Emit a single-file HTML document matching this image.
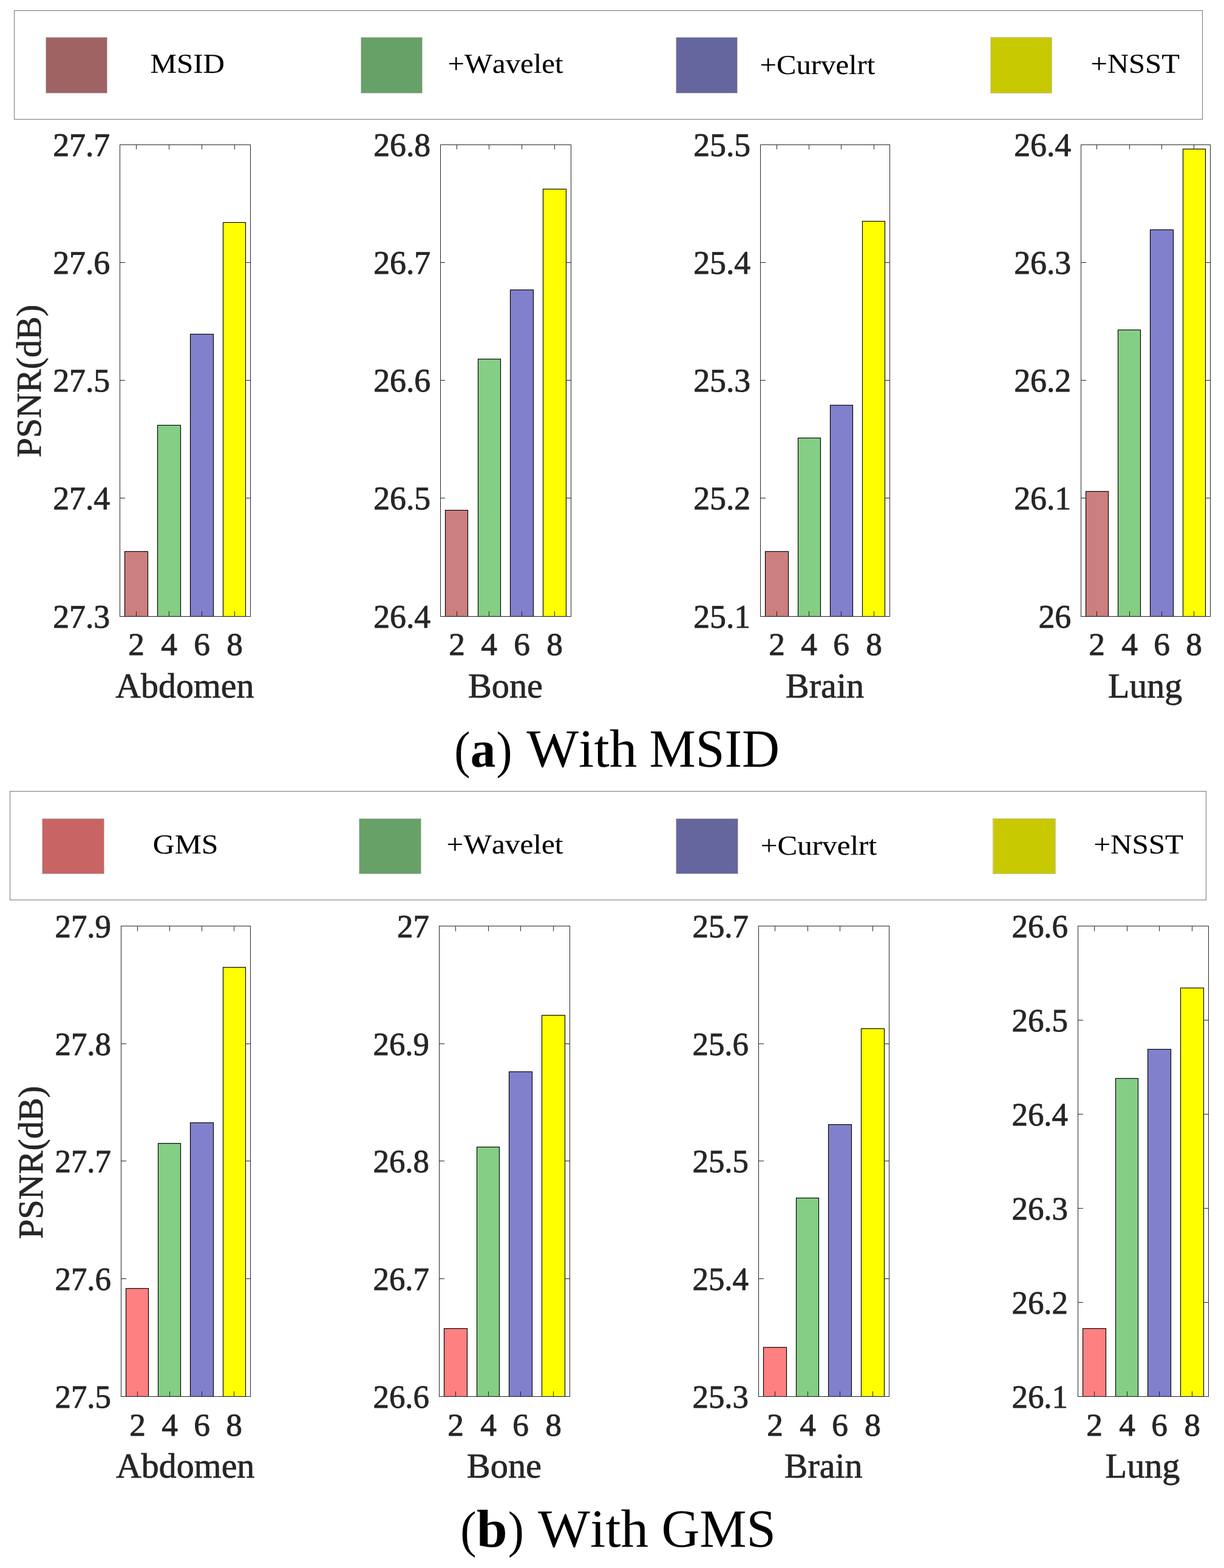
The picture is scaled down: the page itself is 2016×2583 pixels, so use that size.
<!DOCTYPE html>
<html lang="en"><head><meta charset="utf-8"><title>PSNR comparison</title>
<style>html,body{margin:0;padding:0;background:#ffffff}body{width:2016px;height:2583px;overflow:hidden}svg{display:block}text{white-space:pre;font-kerning:none;font-variant-ligatures:none;text-rendering:geometricPrecision}</style></head>
<body>
<svg width="2016" height="2583" viewBox="0 0 2016 2583" font-family='"Liberation Serif", "DejaVu Serif", serif'>
<rect width="2016" height="2583" fill="#ffffff"/>
<g id="panel-a">
<g class="legend"><rect x="23.5" y="17.5" width="1957" height="179" fill="none" stroke="#757575" stroke-width="1"/>
<rect x="75.5" y="61.5" width="101" height="92" fill="#9F6363" stroke="#c9c9c9" stroke-width="1"/>
<text transform="translate(247.55 119.8) scale(1.0787 1)" font-size="45.4" fill="#000" stroke="#000" stroke-width="0.12" stroke-linejoin="round">MSID</text>
<rect x="594.5" y="61.5" width="101" height="92" fill="#67A167" stroke="#c9c9c9" stroke-width="1"/>
<text transform="translate(737.53 119.9) scale(1.0744 1)" font-size="45.4" fill="#000" stroke="#000" stroke-width="0.12" stroke-linejoin="round">+Wavelet</text>
<rect x="1113.5" y="61.5" width="101" height="92" fill="#66669F" stroke="#c9c9c9" stroke-width="1"/>
<text transform="translate(1251.53 121.7) scale(1.0729 1)" font-size="45.4" fill="#000" stroke="#000" stroke-width="0.12" stroke-linejoin="round">+Curvelrt</text>
<rect x="1631.5" y="61.5" width="101" height="92" fill="#C8C800" stroke="#c9c9c9" stroke-width="1"/>
<text transform="translate(1796.44 119.85) scale(1.0724 1)" font-size="45.4" fill="#000" stroke="#000" stroke-width="0.12" stroke-linejoin="round">+NSST</text>
</g>
<g class="axes">
<rect x="205.5" y="908.5" width="38" height="107" fill="#CC7F7F" stroke="#000" stroke-width="1.15"/>
<rect x="259.5" y="700.5" width="38" height="315" fill="#85CE85" stroke="#000" stroke-width="1.15"/>
<rect x="313.5" y="550.5" width="38" height="465" fill="#8080CC" stroke="#000" stroke-width="1.15"/>
<rect x="367.5" y="366.5" width="37" height="649" fill="#FFFF00" stroke="#000" stroke-width="1.15"/>
<path d="M197.5 820.5h8.5M412.5 820.5h-8.5M197.5 626.5h8.5M412.5 626.5h-8.5M197.5 432.5h8.5M412.5 432.5h-8.5M224.5 1015.5v-8.5M224.5 238.5v7.5M278.5 1015.5v-8.5M278.5 238.5v7.5M332.5 1015.5v-8.5M332.5 238.5v7.5M386.5 1015.5v-8.5M386.5 238.5v7.5" stroke="#262626" stroke-width="1" fill="none"/>
<rect x="197.5" y="238.5" width="215" height="777" fill="none" stroke="#262626" stroke-width="1"/>
<text transform="translate(181.2 1033.9) scale(0.9880 1)" text-anchor="end" font-size="54.4" fill="#262626" stroke="#262626" stroke-width="0.9" stroke-linejoin="round">27.3</text>
<text transform="translate(181.2 838.9) scale(0.9880 1)" text-anchor="end" font-size="54.4" fill="#262626" stroke="#262626" stroke-width="0.9" stroke-linejoin="round">27.4</text>
<text transform="translate(181.2 644.9) scale(0.9880 1)" text-anchor="end" font-size="54.4" fill="#262626" stroke="#262626" stroke-width="0.9" stroke-linejoin="round">27.5</text>
<text transform="translate(181.2 450.9) scale(0.9880 1)" text-anchor="end" font-size="54.4" fill="#262626" stroke="#262626" stroke-width="0.9" stroke-linejoin="round">27.6</text>
<text transform="translate(181.2 256.9) scale(0.9880 1)" text-anchor="end" font-size="54.4" fill="#262626" stroke="#262626" stroke-width="0.9" stroke-linejoin="round">27.7</text>
<text transform="translate(224.5 1079.4) scale(1.0200 1)" text-anchor="middle" font-size="52.3" fill="#262626" stroke="#262626" stroke-width="0.9" stroke-linejoin="round">2</text>
<text transform="translate(278.5 1079.4) scale(1.0200 1)" text-anchor="middle" font-size="52.3" fill="#262626" stroke="#262626" stroke-width="0.9" stroke-linejoin="round">4</text>
<text transform="translate(332.5 1079.4) scale(1.0200 1)" text-anchor="middle" font-size="52.3" fill="#262626" stroke="#262626" stroke-width="0.9" stroke-linejoin="round">6</text>
<text transform="translate(386.5 1079.4) scale(1.0200 1)" text-anchor="middle" font-size="52.3" fill="#262626" stroke="#262626" stroke-width="0.9" stroke-linejoin="round">8</text>
<text transform="translate(190.21 1148.6) scale(1.0032 1)" font-size="57.7" fill="#262626" stroke="#262626" stroke-width="0.75" stroke-linejoin="round">Abdomen</text>
</g>
<g class="axes">
<rect x="733.5" y="840.5" width="37" height="175" fill="#CC7F7F" stroke="#000" stroke-width="1.15"/>
<rect x="787.5" y="591.5" width="37" height="424" fill="#85CE85" stroke="#000" stroke-width="1.15"/>
<rect x="840.5" y="477.5" width="38" height="538" fill="#8080CC" stroke="#000" stroke-width="1.15"/>
<rect x="894.5" y="311.5" width="38" height="704" fill="#FFFF00" stroke="#000" stroke-width="1.15"/>
<path d="M725.5 820.5h7.5M940.5 820.5h-8.5M725.5 626.5h7.5M940.5 626.5h-8.5M725.5 432.5h7.5M940.5 432.5h-8.5M752.5 1015.5v-8.5M752.5 238.5v7.5M805.5 1015.5v-8.5M805.5 238.5v7.5M859.5 1015.5v-8.5M859.5 238.5v7.5M913.5 1015.5v-8.5M913.5 238.5v7.5" stroke="#262626" stroke-width="1" fill="none"/>
<rect x="725.5" y="238.5" width="215" height="777" fill="none" stroke="#262626" stroke-width="1"/>
<text transform="translate(709.2 1033.9) scale(0.9880 1)" text-anchor="end" font-size="54.4" fill="#262626" stroke="#262626" stroke-width="0.9" stroke-linejoin="round">26.4</text>
<text transform="translate(709.2 838.9) scale(0.9880 1)" text-anchor="end" font-size="54.4" fill="#262626" stroke="#262626" stroke-width="0.9" stroke-linejoin="round">26.5</text>
<text transform="translate(709.2 644.9) scale(0.9880 1)" text-anchor="end" font-size="54.4" fill="#262626" stroke="#262626" stroke-width="0.9" stroke-linejoin="round">26.6</text>
<text transform="translate(709.2 450.9) scale(0.9880 1)" text-anchor="end" font-size="54.4" fill="#262626" stroke="#262626" stroke-width="0.9" stroke-linejoin="round">26.7</text>
<text transform="translate(709.2 256.9) scale(0.9880 1)" text-anchor="end" font-size="54.4" fill="#262626" stroke="#262626" stroke-width="0.9" stroke-linejoin="round">26.8</text>
<text transform="translate(752.5 1079.4) scale(1.0200 1)" text-anchor="middle" font-size="52.3" fill="#262626" stroke="#262626" stroke-width="0.9" stroke-linejoin="round">2</text>
<text transform="translate(805.5 1079.4) scale(1.0200 1)" text-anchor="middle" font-size="52.3" fill="#262626" stroke="#262626" stroke-width="0.9" stroke-linejoin="round">4</text>
<text transform="translate(859.5 1079.4) scale(1.0200 1)" text-anchor="middle" font-size="52.3" fill="#262626" stroke="#262626" stroke-width="0.9" stroke-linejoin="round">6</text>
<text transform="translate(913.5 1079.4) scale(1.0200 1)" text-anchor="middle" font-size="52.3" fill="#262626" stroke="#262626" stroke-width="0.9" stroke-linejoin="round">8</text>
<text transform="translate(770.89 1148.6) scale(1.0111 1)" font-size="57.7" fill="#262626" stroke="#262626" stroke-width="0.75" stroke-linejoin="round">Bone</text>
</g>
<g class="axes">
<rect x="1260.5" y="908.5" width="38" height="107" fill="#CC7F7F" stroke="#000" stroke-width="1.15"/>
<rect x="1314.5" y="721.5" width="37" height="294" fill="#85CE85" stroke="#000" stroke-width="1.15"/>
<rect x="1367.5" y="667.5" width="37" height="348" fill="#8080CC" stroke="#000" stroke-width="1.15"/>
<rect x="1420.5" y="364.5" width="37" height="651" fill="#FFFF00" stroke="#000" stroke-width="1.15"/>
<path d="M1252.5 820.5h8.5M1465.5 820.5h-8.5M1252.5 626.5h8.5M1465.5 626.5h-8.5M1252.5 432.5h8.5M1465.5 432.5h-8.5M1279.5 1015.5v-8.5M1279.5 238.5v7.5M1332.5 1015.5v-8.5M1332.5 238.5v7.5M1385.5 1015.5v-8.5M1385.5 238.5v7.5M1439.5 1015.5v-8.5M1439.5 238.5v7.5" stroke="#262626" stroke-width="1" fill="none"/>
<rect x="1252.5" y="238.5" width="213" height="777" fill="none" stroke="#262626" stroke-width="1"/>
<text transform="translate(1236.2 1033.9) scale(0.9880 1)" text-anchor="end" font-size="54.4" fill="#262626" stroke="#262626" stroke-width="0.9" stroke-linejoin="round">25.1</text>
<text transform="translate(1236.2 838.9) scale(0.9880 1)" text-anchor="end" font-size="54.4" fill="#262626" stroke="#262626" stroke-width="0.9" stroke-linejoin="round">25.2</text>
<text transform="translate(1236.2 644.9) scale(0.9880 1)" text-anchor="end" font-size="54.4" fill="#262626" stroke="#262626" stroke-width="0.9" stroke-linejoin="round">25.3</text>
<text transform="translate(1236.2 450.9) scale(0.9880 1)" text-anchor="end" font-size="54.4" fill="#262626" stroke="#262626" stroke-width="0.9" stroke-linejoin="round">25.4</text>
<text transform="translate(1236.2 256.9) scale(0.9880 1)" text-anchor="end" font-size="54.4" fill="#262626" stroke="#262626" stroke-width="0.9" stroke-linejoin="round">25.5</text>
<text transform="translate(1279.5 1079.4) scale(1.0200 1)" text-anchor="middle" font-size="52.3" fill="#262626" stroke="#262626" stroke-width="0.9" stroke-linejoin="round">2</text>
<text transform="translate(1332.5 1079.4) scale(1.0200 1)" text-anchor="middle" font-size="52.3" fill="#262626" stroke="#262626" stroke-width="0.9" stroke-linejoin="round">4</text>
<text transform="translate(1385.5 1079.4) scale(1.0200 1)" text-anchor="middle" font-size="52.3" fill="#262626" stroke="#262626" stroke-width="0.9" stroke-linejoin="round">6</text>
<text transform="translate(1439.5 1079.4) scale(1.0200 1)" text-anchor="middle" font-size="52.3" fill="#262626" stroke="#262626" stroke-width="0.9" stroke-linejoin="round">8</text>
<text transform="translate(1293.8 1148.6) scale(1.0095 1)" font-size="57.7" fill="#262626" stroke="#262626" stroke-width="0.75" stroke-linejoin="round">Brain</text>
</g>
<g class="axes">
<rect x="1788.5" y="809.5" width="37" height="206" fill="#CC7F7F" stroke="#000" stroke-width="1.15"/>
<rect x="1841.5" y="543.5" width="37" height="472" fill="#85CE85" stroke="#000" stroke-width="1.15"/>
<rect x="1894.5" y="378.5" width="38" height="637" fill="#8080CC" stroke="#000" stroke-width="1.15"/>
<rect x="1948.5" y="245.5" width="37" height="770" fill="#FFFF00" stroke="#000" stroke-width="1.15"/>
<path d="M1780.5 820.5h8.5M1993.5 820.5h-8.5M1780.5 626.5h8.5M1993.5 626.5h-8.5M1780.5 432.5h8.5M1993.5 432.5h-8.5M1806.5 1015.5v-8.5M1806.5 238.5v7.5M1860.5 1015.5v-8.5M1860.5 238.5v7.5M1913.5 1015.5v-8.5M1913.5 238.5v7.5M1966.5 1015.5v-8.5M1966.5 238.5v7.5" stroke="#262626" stroke-width="1" fill="none"/>
<rect x="1780.5" y="238.5" width="213" height="777" fill="none" stroke="#262626" stroke-width="1"/>
<text transform="translate(1764.2 1033.9) scale(0.9880 1)" text-anchor="end" font-size="54.4" fill="#262626" stroke="#262626" stroke-width="0.9" stroke-linejoin="round">26</text>
<text transform="translate(1764.2 838.9) scale(0.9880 1)" text-anchor="end" font-size="54.4" fill="#262626" stroke="#262626" stroke-width="0.9" stroke-linejoin="round">26.1</text>
<text transform="translate(1764.2 644.9) scale(0.9880 1)" text-anchor="end" font-size="54.4" fill="#262626" stroke="#262626" stroke-width="0.9" stroke-linejoin="round">26.2</text>
<text transform="translate(1764.2 450.9) scale(0.9880 1)" text-anchor="end" font-size="54.4" fill="#262626" stroke="#262626" stroke-width="0.9" stroke-linejoin="round">26.3</text>
<text transform="translate(1764.2 256.9) scale(0.9880 1)" text-anchor="end" font-size="54.4" fill="#262626" stroke="#262626" stroke-width="0.9" stroke-linejoin="round">26.4</text>
<text transform="translate(1806.5 1079.4) scale(1.0200 1)" text-anchor="middle" font-size="52.3" fill="#262626" stroke="#262626" stroke-width="0.9" stroke-linejoin="round">2</text>
<text transform="translate(1860.5 1079.4) scale(1.0200 1)" text-anchor="middle" font-size="52.3" fill="#262626" stroke="#262626" stroke-width="0.9" stroke-linejoin="round">4</text>
<text transform="translate(1913.5 1079.4) scale(1.0200 1)" text-anchor="middle" font-size="52.3" fill="#262626" stroke="#262626" stroke-width="0.9" stroke-linejoin="round">6</text>
<text transform="translate(1966.5 1079.4) scale(1.0200 1)" text-anchor="middle" font-size="52.3" fill="#262626" stroke="#262626" stroke-width="0.9" stroke-linejoin="round">8</text>
<text transform="translate(1825.01 1148.6) scale(1.0035 1)" font-size="57.7" fill="#262626" stroke="#262626" stroke-width="0.75" stroke-linejoin="round">Lung</text>
</g>
<text transform="translate(66.6 753.6) rotate(-90) scale(1.0071 1)" font-size="57.7" fill="#262626" stroke="#262626" stroke-width="0.75" stroke-linejoin="round">PSNR(dB)</text>
<text class="caption" fill="#000"><tspan x="748.13" y="1263.5" font-size="85.4" textLength="26.32" lengthAdjust="spacingAndGlyphs">(</tspan><tspan x="774.82" y="1262.9" font-size="85.5" font-weight="bold" textLength="41.53" lengthAdjust="spacingAndGlyphs">a</tspan><tspan x="817.58" y="1263.5" font-size="85.4" textLength="26.06" lengthAdjust="spacingAndGlyphs">)</tspan> <tspan x="867.21" y="1263.2" font-size="88.6" textLength="181.99" lengthAdjust="spacingAndGlyphs">With</tspan> <tspan x="1069.43" y="1263.2" font-size="88.6" textLength="214.51" lengthAdjust="spacingAndGlyphs">MSID</tspan></text>
</g>
<g id="panel-b">
<g class="legend"><rect x="16.5" y="1303.5" width="1970" height="179" fill="none" stroke="#757575" stroke-width="1"/>
<rect x="69.5" y="1348.5" width="102" height="91" fill="#C86464" stroke="#c9c9c9" stroke-width="1"/>
<text transform="translate(251.83 1405.6) scale(1.0923 1)" font-size="45.4" fill="#000" stroke="#000" stroke-width="0.12" stroke-linejoin="round">GMS</text>
<rect x="591.5" y="1348.5" width="102" height="91" fill="#67A167" stroke="#c9c9c9" stroke-width="1"/>
<text transform="translate(735.61 1405.7) scale(1.0853 1)" font-size="45.4" fill="#000" stroke="#000" stroke-width="0.12" stroke-linejoin="round">+Wavelet</text>
<rect x="1113.5" y="1348.5" width="102" height="91" fill="#66669F" stroke="#c9c9c9" stroke-width="1"/>
<text transform="translate(1252.71 1408) scale(1.0820 1)" font-size="45.4" fill="#000" stroke="#000" stroke-width="0.12" stroke-linejoin="round">+Curvelrt</text>
<rect x="1636.5" y="1348.5" width="102" height="91" fill="#C8C800" stroke="#c9c9c9" stroke-width="1"/>
<text transform="translate(1801.42 1405.7) scale(1.0806 1)" font-size="45.4" fill="#000" stroke="#000" stroke-width="0.12" stroke-linejoin="round">+NSST</text>
<rect x="1635" y="1348" width="1" height="92" fill="#C8C800"/>
</g>
<g class="axes">
<rect x="207.5" y="2122.5" width="37" height="178" fill="#FF8080" stroke="#000" stroke-width="1.15"/>
<rect x="260.5" y="1883.5" width="37" height="417" fill="#85CE85" stroke="#000" stroke-width="1.15"/>
<rect x="313.5" y="1849.5" width="38" height="451" fill="#8080CC" stroke="#000" stroke-width="1.15"/>
<rect x="367.5" y="1593.5" width="37" height="707" fill="#FFFF00" stroke="#000" stroke-width="1.15"/>
<path d="M199.5 2106.5h8.5M412.5 2106.5h-8.5M199.5 1912.5h8.5M412.5 1912.5h-8.5M199.5 1719.5h8.5M412.5 1719.5h-8.5M226.5 2300.5v-8.5M226.5 1525.5v8.5M279.5 2300.5v-8.5M279.5 1525.5v8.5M332.5 2300.5v-8.5M332.5 1525.5v8.5M385.5 2300.5v-8.5M385.5 1525.5v8.5" stroke="#262626" stroke-width="1" fill="none"/>
<rect x="199.5" y="1525.5" width="213" height="775" fill="none" stroke="#262626" stroke-width="1"/>
<text transform="translate(182.9 2319.4) scale(0.9870 1)" text-anchor="end" font-size="53.5" fill="#262626" stroke="#262626" stroke-width="0.9" stroke-linejoin="round">27.5</text>
<text transform="translate(182.9 2125.4) scale(0.9870 1)" text-anchor="end" font-size="53.5" fill="#262626" stroke="#262626" stroke-width="0.9" stroke-linejoin="round">27.6</text>
<text transform="translate(182.9 1931.4) scale(0.9870 1)" text-anchor="end" font-size="53.5" fill="#262626" stroke="#262626" stroke-width="0.9" stroke-linejoin="round">27.7</text>
<text transform="translate(182.9 1738.4) scale(0.9870 1)" text-anchor="end" font-size="53.5" fill="#262626" stroke="#262626" stroke-width="0.9" stroke-linejoin="round">27.8</text>
<text transform="translate(182.9 1544.4) scale(0.9870 1)" text-anchor="end" font-size="53.5" fill="#262626" stroke="#262626" stroke-width="0.9" stroke-linejoin="round">27.9</text>
<text transform="translate(226.5 2364.9) scale(1.0200 1)" text-anchor="middle" font-size="52.3" fill="#262626" stroke="#262626" stroke-width="0.9" stroke-linejoin="round">2</text>
<text transform="translate(279.5 2364.9) scale(1.0200 1)" text-anchor="middle" font-size="52.3" fill="#262626" stroke="#262626" stroke-width="0.9" stroke-linejoin="round">4</text>
<text transform="translate(332.5 2364.9) scale(1.0200 1)" text-anchor="middle" font-size="52.3" fill="#262626" stroke="#262626" stroke-width="0.9" stroke-linejoin="round">6</text>
<text transform="translate(385.5 2364.9) scale(1.0200 1)" text-anchor="middle" font-size="52.3" fill="#262626" stroke="#262626" stroke-width="0.9" stroke-linejoin="round">8</text>
<text transform="translate(191.01 2433.7) scale(1.0032 1)" font-size="57.7" fill="#262626" stroke="#262626" stroke-width="0.75" stroke-linejoin="round">Abdomen</text>
</g>
<g class="axes">
<rect x="731.5" y="2188.5" width="38" height="112" fill="#FF8080" stroke="#000" stroke-width="1.15"/>
<rect x="785.5" y="1889.5" width="37" height="411" fill="#85CE85" stroke="#000" stroke-width="1.15"/>
<rect x="838.5" y="1765.5" width="38" height="535" fill="#8080CC" stroke="#000" stroke-width="1.15"/>
<rect x="892.5" y="1672.5" width="38" height="628" fill="#FFFF00" stroke="#000" stroke-width="1.15"/>
<path d="M723.5 2106.5h8.5M938.5 2106.5h-8.5M723.5 1912.5h8.5M938.5 1912.5h-8.5M723.5 1719.5h8.5M938.5 1719.5h-8.5M750.5 2300.5v-8.5M750.5 1525.5v8.5M804.5 2300.5v-8.5M804.5 1525.5v8.5M857.5 2300.5v-8.5M857.5 1525.5v8.5M911.5 2300.5v-8.5M911.5 1525.5v8.5" stroke="#262626" stroke-width="1" fill="none"/>
<rect x="723.5" y="1525.5" width="215" height="775" fill="none" stroke="#262626" stroke-width="1"/>
<text transform="translate(706.9 2319.4) scale(0.9870 1)" text-anchor="end" font-size="53.5" fill="#262626" stroke="#262626" stroke-width="0.9" stroke-linejoin="round">26.6</text>
<text transform="translate(706.9 2125.4) scale(0.9870 1)" text-anchor="end" font-size="53.5" fill="#262626" stroke="#262626" stroke-width="0.9" stroke-linejoin="round">26.7</text>
<text transform="translate(706.9 1931.4) scale(0.9870 1)" text-anchor="end" font-size="53.5" fill="#262626" stroke="#262626" stroke-width="0.9" stroke-linejoin="round">26.8</text>
<text transform="translate(706.9 1738.4) scale(0.9870 1)" text-anchor="end" font-size="53.5" fill="#262626" stroke="#262626" stroke-width="0.9" stroke-linejoin="round">26.9</text>
<text transform="translate(706.9 1544.4) scale(0.9870 1)" text-anchor="end" font-size="53.5" fill="#262626" stroke="#262626" stroke-width="0.9" stroke-linejoin="round">27</text>
<text transform="translate(750.5 2364.9) scale(1.0200 1)" text-anchor="middle" font-size="52.3" fill="#262626" stroke="#262626" stroke-width="0.9" stroke-linejoin="round">2</text>
<text transform="translate(804.5 2364.9) scale(1.0200 1)" text-anchor="middle" font-size="52.3" fill="#262626" stroke="#262626" stroke-width="0.9" stroke-linejoin="round">4</text>
<text transform="translate(857.5 2364.9) scale(1.0200 1)" text-anchor="middle" font-size="52.3" fill="#262626" stroke="#262626" stroke-width="0.9" stroke-linejoin="round">6</text>
<text transform="translate(911.5 2364.9) scale(1.0200 1)" text-anchor="middle" font-size="52.3" fill="#262626" stroke="#262626" stroke-width="0.9" stroke-linejoin="round">8</text>
<text transform="translate(768.79 2433.7) scale(1.0120 1)" font-size="57.7" fill="#262626" stroke="#262626" stroke-width="0.75" stroke-linejoin="round">Bone</text>
</g>
<g class="axes">
<rect x="1257.5" y="2219.5" width="38" height="81" fill="#FF8080" stroke="#000" stroke-width="1.15"/>
<rect x="1311.5" y="1973.5" width="37" height="327" fill="#85CE85" stroke="#000" stroke-width="1.15"/>
<rect x="1364.5" y="1852.5" width="38" height="448" fill="#8080CC" stroke="#000" stroke-width="1.15"/>
<rect x="1418.5" y="1694.5" width="38" height="606" fill="#FFFF00" stroke="#000" stroke-width="1.15"/>
<path d="M1249.5 2106.5h8.5M1464.5 2106.5h-8.5M1249.5 1912.5h8.5M1464.5 1912.5h-8.5M1249.5 1719.5h8.5M1464.5 1719.5h-8.5M1276.5 2300.5v-8.5M1276.5 1525.5v8.5M1330.5 2300.5v-8.5M1330.5 1525.5v8.5M1383.5 2300.5v-8.5M1383.5 1525.5v8.5M1437.5 2300.5v-8.5M1437.5 1525.5v8.5" stroke="#262626" stroke-width="1" fill="none"/>
<rect x="1249.5" y="1525.5" width="215" height="775" fill="none" stroke="#262626" stroke-width="1"/>
<text transform="translate(1232.9 2319.4) scale(0.9870 1)" text-anchor="end" font-size="53.5" fill="#262626" stroke="#262626" stroke-width="0.9" stroke-linejoin="round">25.3</text>
<text transform="translate(1232.9 2125.4) scale(0.9870 1)" text-anchor="end" font-size="53.5" fill="#262626" stroke="#262626" stroke-width="0.9" stroke-linejoin="round">25.4</text>
<text transform="translate(1232.9 1931.4) scale(0.9870 1)" text-anchor="end" font-size="53.5" fill="#262626" stroke="#262626" stroke-width="0.9" stroke-linejoin="round">25.5</text>
<text transform="translate(1232.9 1738.4) scale(0.9870 1)" text-anchor="end" font-size="53.5" fill="#262626" stroke="#262626" stroke-width="0.9" stroke-linejoin="round">25.6</text>
<text transform="translate(1232.9 1544.4) scale(0.9870 1)" text-anchor="end" font-size="53.5" fill="#262626" stroke="#262626" stroke-width="0.9" stroke-linejoin="round">25.7</text>
<text transform="translate(1276.5 2364.9) scale(1.0200 1)" text-anchor="middle" font-size="52.3" fill="#262626" stroke="#262626" stroke-width="0.9" stroke-linejoin="round">2</text>
<text transform="translate(1330.5 2364.9) scale(1.0200 1)" text-anchor="middle" font-size="52.3" fill="#262626" stroke="#262626" stroke-width="0.9" stroke-linejoin="round">4</text>
<text transform="translate(1383.5 2364.9) scale(1.0200 1)" text-anchor="middle" font-size="52.3" fill="#262626" stroke="#262626" stroke-width="0.9" stroke-linejoin="round">6</text>
<text transform="translate(1437.5 2364.9) scale(1.0200 1)" text-anchor="middle" font-size="52.3" fill="#262626" stroke="#262626" stroke-width="0.9" stroke-linejoin="round">8</text>
<text transform="translate(1291.81 2433.7) scale(1.0039 1)" font-size="57.7" fill="#262626" stroke="#262626" stroke-width="0.75" stroke-linejoin="round">Brain</text>
</g>
<g class="axes">
<rect x="1783.5" y="2188.5" width="38" height="112" fill="#FF8080" stroke="#000" stroke-width="1.15"/>
<rect x="1837.5" y="1776.5" width="37" height="524" fill="#85CE85" stroke="#000" stroke-width="1.15"/>
<rect x="1890.5" y="1728.5" width="38" height="572" fill="#8080CC" stroke="#000" stroke-width="1.15"/>
<rect x="1944.5" y="1627.5" width="38" height="673" fill="#FFFF00" stroke="#000" stroke-width="1.15"/>
<path d="M1775.5 2145.5h8.5M1990.5 2145.5h-8.5M1775.5 1990.5h8.5M1990.5 1990.5h-8.5M1775.5 1835.5h8.5M1990.5 1835.5h-8.5M1775.5 1680.5h8.5M1990.5 1680.5h-8.5M1802.5 2300.5v-8.5M1802.5 1525.5v8.5M1856.5 2300.5v-8.5M1856.5 1525.5v8.5M1909.5 2300.5v-8.5M1909.5 1525.5v8.5M1963.5 2300.5v-8.5M1963.5 1525.5v8.5" stroke="#262626" stroke-width="1" fill="none"/>
<rect x="1775.5" y="1525.5" width="215" height="775" fill="none" stroke="#262626" stroke-width="1"/>
<text transform="translate(1758.9 2319.4) scale(0.9870 1)" text-anchor="end" font-size="53.5" fill="#262626" stroke="#262626" stroke-width="0.9" stroke-linejoin="round">26.1</text>
<text transform="translate(1758.9 2164.4) scale(0.9870 1)" text-anchor="end" font-size="53.5" fill="#262626" stroke="#262626" stroke-width="0.9" stroke-linejoin="round">26.2</text>
<text transform="translate(1758.9 2009.4) scale(0.9870 1)" text-anchor="end" font-size="53.5" fill="#262626" stroke="#262626" stroke-width="0.9" stroke-linejoin="round">26.3</text>
<text transform="translate(1758.9 1854.4) scale(0.9870 1)" text-anchor="end" font-size="53.5" fill="#262626" stroke="#262626" stroke-width="0.9" stroke-linejoin="round">26.4</text>
<text transform="translate(1758.9 1699.4) scale(0.9870 1)" text-anchor="end" font-size="53.5" fill="#262626" stroke="#262626" stroke-width="0.9" stroke-linejoin="round">26.5</text>
<text transform="translate(1758.9 1544.4) scale(0.9870 1)" text-anchor="end" font-size="53.5" fill="#262626" stroke="#262626" stroke-width="0.9" stroke-linejoin="round">26.6</text>
<text transform="translate(1802.5 2364.9) scale(1.0200 1)" text-anchor="middle" font-size="52.3" fill="#262626" stroke="#262626" stroke-width="0.9" stroke-linejoin="round">2</text>
<text transform="translate(1856.5 2364.9) scale(1.0200 1)" text-anchor="middle" font-size="52.3" fill="#262626" stroke="#262626" stroke-width="0.9" stroke-linejoin="round">4</text>
<text transform="translate(1909.5 2364.9) scale(1.0200 1)" text-anchor="middle" font-size="52.3" fill="#262626" stroke="#262626" stroke-width="0.9" stroke-linejoin="round">6</text>
<text transform="translate(1963.5 2364.9) scale(1.0200 1)" text-anchor="middle" font-size="52.3" fill="#262626" stroke="#262626" stroke-width="0.9" stroke-linejoin="round">8</text>
<text transform="translate(1820.6 2433.7) scale(1.0085 1)" font-size="57.7" fill="#262626" stroke="#262626" stroke-width="0.75" stroke-linejoin="round">Lung</text>
</g>
<text transform="translate(70.1 2040.9) rotate(-90) scale(1.0083 1)" font-size="57.7" fill="#262626" stroke="#262626" stroke-width="0.75" stroke-linejoin="round">PSNR(dB)</text>
<text class="caption" fill="#000"><tspan x="758.13" y="2548.4" font-size="84.2" textLength="26.32" lengthAdjust="spacingAndGlyphs">(</tspan><tspan x="785.04" y="2547.8" font-size="88" font-weight="bold" textLength="50.65" lengthAdjust="spacingAndGlyphs">b</tspan><tspan x="836.67" y="2548.4" font-size="84.2" textLength="26.19" lengthAdjust="spacingAndGlyphs">)</tspan> <tspan x="886.01" y="2547.8" font-size="88.6" textLength="181.99" lengthAdjust="spacingAndGlyphs">With</tspan> <tspan x="1089.43" y="2547.8" font-size="88.6" textLength="188.46" lengthAdjust="spacingAndGlyphs">GMS</tspan></text>
</g>
</svg>
</body></html>
